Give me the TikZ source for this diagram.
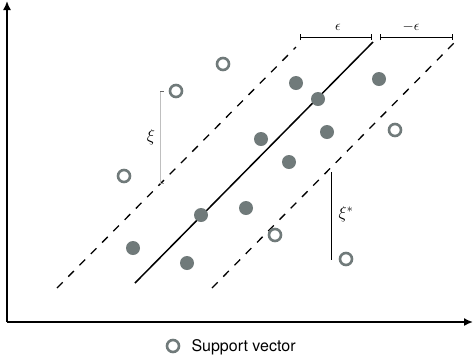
\documentclass[tikz,border=0pt]{standalone}
\usepackage{fontspec}
\setsansfont{TeX Gyre Heros}
\usepackage{amsmath}
\usepackage{tikz}
\usetikzlibrary{calc}
\usetikzlibrary{arrows.meta}

\definecolor{dotgray}{RGB}{112,122,122}
\tikzset{
  svdot/.style={circle,fill=dotgray,inner sep=0pt,minimum size=14pt},
  svring/.style={circle,draw=dotgray,line width=2.6pt,fill=white,inner sep=0pt,minimum size=12pt},
  axisline/.style={line width=1.6pt,-{Latex[length=9pt,width=8pt]}},
  epsbar/.style={line width=0.9pt,{Bar[width=6pt]}-{Bar[width=6pt]}},
  margin/.style={line width=1.3pt,dash pattern=on 8pt off 8pt}
}

\begin{document}
\begin{tikzpicture}[x=1pt,y=-1pt]
        \useasboundingbox (0,0) rectangle (474,360);
        % axes
        \coordinate (o) at (7,322);
        \coordinate (ytop) at (7,1);
        \coordinate (xend) at (473,322);
        \draw[axisline] (o) -- (ytop);
        \draw[axisline] (o) -- (xend);

        % regression line and margins
        \coordinate (lo) at (135,283);
        \coordinate (hi) at (373,42);
        \coordinate (ulo) at (57,288);
        \coordinate (uhi) at (296,47);
        \coordinate (llo) at (212,288);
        \coordinate (lhi) at (454,43);
        \draw[line width=1.5pt] (lo) -- (hi);
        \draw[margin] (ulo) -- (uhi);
        \draw[margin] (llo) -- (lhi);

        % epsilon bars
        \coordinate (ea) at (300,37);
        \coordinate (eb) at (372,37);
        \coordinate (ec) at (380,37);
        \coordinate (ed) at (453,37);
        \draw[epsbar] (ea) -- (eb);
        \draw[epsbar] (ec) -- (ed);
        \node[font=\fontsize{15}{17}\selectfont] (eps) at (338,27) {$\epsilon$};
        \node[font=\fontsize{15}{17}\selectfont] (meps) at (411,27) {$-\epsilon$};

        % slack xi
        \coordinate (xitop) at (160,91);
        \coordinate (xibot) at (160,183);
        \draw[black!25,line width=0.7pt] (xitop) -- (xibot);
        \draw[black!60,line width=0.7pt] (xitop) -- ++(4,0);
        \draw[black!40,line width=0.7pt] (xibot) -- ++(4,0);
        \node[font=\fontsize{17}{19}\selectfont] (xi) at (151,137) {$\xi$};

        % slack xi star
        \coordinate (xstop) at (331,172);
        \coordinate (xsbot) at (331,260);
        \draw[line width=0.9pt] (xstop) -- (xsbot);
        \node[font=\fontsize{17}{19}\selectfont] (xis) at (346,214) {$\xi^{*}$};

        % points inside the tube
        \node[svdot] (p1) at (296,83) {};
        \node[svdot] (p2) at (318,99) {};
        \node[svdot] (p3) at (379,79) {};
        \node[svdot] (p4) at (261,139) {};
        \node[svdot] (p5) at (327,132) {};
        \node[svdot] (p6) at (289,162) {};
        \node[svdot] (p7) at (201,215) {};
        \node[svdot] (p8) at (246,208) {};
        \node[svdot] (p9) at (133,248) {};
        \node[svdot] (p10) at (187,263) {};

        % support vectors
        \node[svring] (s1) at (223,64) {};
        \node[svring] (s2) at (176,91) {};
        \node[svring] (s3) at (124,176) {};
        \node[svring] (s4) at (395,130) {};
        \node[svring] (s5) at (275,235) {};
        \node[svring] (s6) at (346,259) {};

        % legend
        \node[svring] (key) at (173,346) {};
        \node[anchor=west,font=\sffamily\fontsize{16}{18}\selectfont] (keytext) at (188,347) {Support vector};
    \end{tikzpicture}
\end{document}
